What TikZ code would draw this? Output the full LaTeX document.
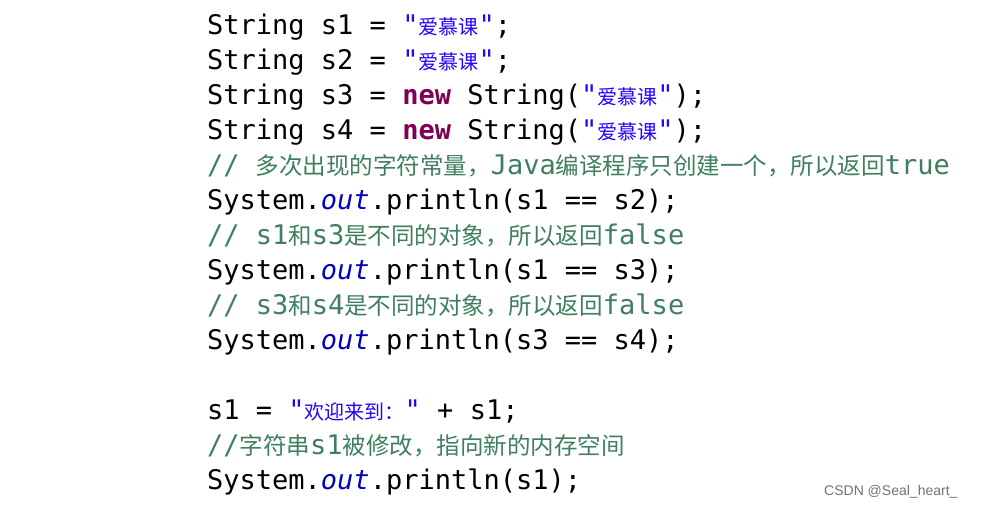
\documentclass[tikz,border=0pt]{standalone}
\usepackage{fontspec}
\newfontfamily\code{DejaVu Sans Mono}
\newfontfamily\cjk{Noto Sans CJK SC}
\newfontfamily\wm{Liberation Sans}
\definecolor{kw}{HTML}{7F0055}
\definecolor{str}{HTML}{2A00FF}
\definecolor{cmt}{HTML}{3F7F5F}
\definecolor{fld}{HTML}{0000C0}
\newcommand{\Sq}[1]{\textcolor{str}{"{\cjk\fontsize{20}{20}\selectfont #1}"}}
\newcommand{\Kw}[1]{\textcolor{kw}{\bfseries #1}}
\newcommand{\Ot}{\textcolor{fld}{\itshape out}}
\newcommand{\Zh}[1]{{\cjk\fontsize{23.5}{23.5}\selectfont #1}}
\begin{document}
\begin{tikzpicture}[x=1pt,y=-1pt,
  ln/.style={anchor=base west,inner sep=0pt,font=\code\fontsize{27}{27}\selectfont},
  cmline/.style={ln,text=cmt}]
\useasboundingbox[fill=white] (0,0) rectangle (989,507);
\node[ln] (l1) at (207,34) {String s1 = \Sq{爱慕课};};
\node[ln] (l2) at (207,69) {String s2 = \Sq{爱慕课};};
\node[ln] (l3) at (207,104) {String s3 = \Kw{new} String(\Sq{爱慕课});};
\node[ln] (l4) at (207,139) {String s4 = \Kw{new} String(\Sq{爱慕课});};
\node[cmline] (c1) at (207,174) {// \Zh{多次出现的字符常量，}Java\Zh{编译程序只创建一个，所以返回}true};
\node[ln] (l5) at (207,209) {System.\Ot.println(s1 == s2);};
\node[cmline] (c2) at (207,244) {// s1\Zh{和}s3\Zh{是不同的对象，所以返回}false};
\node[ln] (l6) at (207,279) {System.\Ot.println(s1 == s3);};
\node[cmline] (c3) at (207,314) {// s3\Zh{和}s4\Zh{是不同的对象，所以返回}false};
\node[ln] (l7) at (207,349) {System.\Ot.println(s3 == s4);};
\node[ln] (l8) at (207,419) {s1 = \Sq{欢迎来到：} + s1;};
\node[cmline] (c4) at (207,454) {//\Zh{字符串}s1\Zh{被修改，指向新的内存空间}};
\node[ln] (l9) at (207,489) {System.\Ot.println(s1);};
\node[anchor=base west,inner sep=0pt,text=black!55,font=\wm\fontsize{14}{14}\selectfont] (wm) at (824,495) {CSDN @Seal\_heart\_};
\end{tikzpicture}
\end{document}
